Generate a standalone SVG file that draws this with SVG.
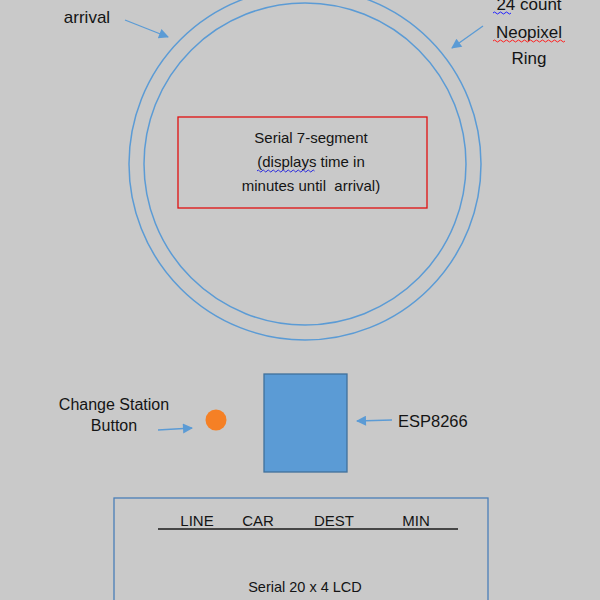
<svg xmlns="http://www.w3.org/2000/svg" width="600" height="600" viewBox="0 0 600 600">
<defs>
<style>
text{font-family:"Liberation Sans",Arial,sans-serif;fill:#141414;}
.c{text-anchor:middle;}
.ring{fill:none;stroke:#5b9bd5;stroke-width:1.5;}
.conn{stroke:#5b9bd5;stroke-width:1.3;fill:none;marker-end:url(#ah);}
.sq{fill:none;stroke-width:1;}
</style>
<marker id="ah" viewBox="0 0 10 10" refX="9" refY="5" markerWidth="11" markerHeight="10" markerUnits="userSpaceOnUse" orient="auto">
<path d="M0,0 L10,5 L0,10 Z" fill="#5b9bd5"/>
</marker>
</defs>
<rect width="600" height="600" fill="#c9c9c9"/>

<g id="ring">
<circle class="ring" cx="305" cy="164" r="176"/>
<circle class="ring" cx="305" cy="164" r="161"/>
</g>

<g id="ring-label-left">
<text class="c" x="87" y="23" font-size="17">arrival</text>
</g>

<g id="ring-label-right">
<text class="c" x="529" y="10" font-size="17">24 count</text>
<text class="c" x="529" y="38" font-size="17">Neopixel</text>
<text class="c" x="529" y="64" font-size="17">Ring</text>
<path class="sq" stroke="#2222ff" d="M493,13 q1.5,-2 3,0 t3,0 t3,0 t3,0 t3,0 t3,0"/>
<path class="sq" stroke="#ff2020" d="M493,41 q1.5,-2 3,0 t3,0 t3,0 t3,0 t3,0 t3,0 t3,0 t3,0 t3,0 t3,0 t3,0 t3,0 t3,0 t3,0 t3,0 t3,0 t3,0 t3,0 t3,0 t3,0 t3,0 t3,0 t3,0 t3,0"/>
</g>

<g id="seven-segment">
<rect x="178" y="117" width="249" height="91" fill="none" stroke="#e01010" stroke-width="1.3"/>
<text class="c" x="311" y="143" font-size="15">Serial 7-segment</text>
<text class="c" x="311" y="167" font-size="15">(displays time in</text>
<text class="c" x="311" y="191" font-size="15" style="white-space:pre">minutes until  arrival)</text>
<path class="sq" stroke="#2a2ae0" d="M257,171 q1.25,-2 2.5,0 t2.5,0 t2.5,0 t2.5,0 t2.5,0 t2.5,0 t2.5,0 t2.5,0 t2.5,0 t2.5,0 t2.5,0 t2.5,0 t2.5,0 t2.5,0 t2.5,0 t2.5,0 t2.5,0 t2.5,0 t2.5,0 t2.5,0 t2.5,0 t2.5,0 t2.5,0"/>
</g>

<g id="button-label">
<text class="c" x="114" y="410" font-size="16">Change Station</text>
<text class="c" x="114" y="431" font-size="16">Button</text>
</g>

<g id="button">
<circle cx="216" cy="420" r="10.5" fill="#f58025"/>
</g>

<g id="esp8266">
<rect x="264" y="374" width="83" height="98" fill="#5b9bd5" stroke="#41719c" stroke-width="1.3"/>
</g>

<g id="esp-label">
<text x="398" y="427" font-size="16.5">ESP8266</text>
</g>

<g id="lcd">
<rect x="114" y="498" width="374" height="120" fill="none" stroke="#4a7fb8" stroke-width="1.3"/>
<text class="c" x="197" y="526" font-size="15">LINE</text>
<text class="c" x="258" y="526" font-size="15">CAR</text>
<text class="c" x="334" y="526" font-size="15">DEST</text>
<text class="c" x="416" y="526" font-size="15">MIN</text>
<line x1="158" y1="529" x2="458" y2="529" stroke="#1a1a1a" stroke-width="1.6"/>
<text class="c" x="305" y="592" font-size="14.5">Serial 20 x 4 LCD</text>
</g>

<g id="connectors">
<line class="conn" x1="125" y1="20" x2="168" y2="37"/>
<line class="conn" x1="483" y1="26" x2="452" y2="48"/>
<line class="conn" x1="158" y1="430" x2="192" y2="428"/>
<line class="conn" x1="392" y1="420" x2="357" y2="421"/>
</g>
</svg>
